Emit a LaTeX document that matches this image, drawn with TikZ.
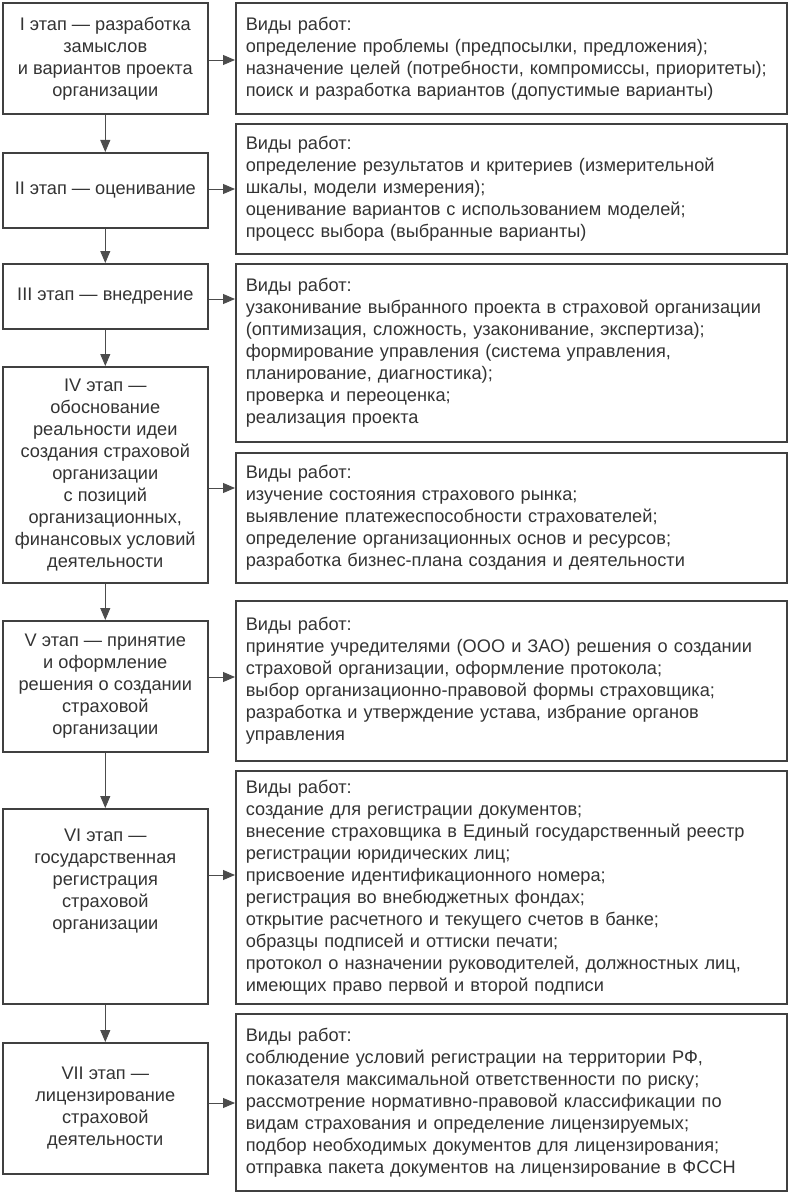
\documentclass[tikz,border=0pt]{standalone}
\usepackage{fontspec}
\setmainfont{Liberation Sans}
\usetikzlibrary{arrows.meta}

\begin{document}
\begin{tikzpicture}[x=1pt, y=1pt,
		every node/.style={font=\fontsize{18.2}{22}\selectfont, text=black!80},
		stage/.style={draw=black!75, line width=1.6pt, anchor=north west, minimum width=205pt, align=center, inner sep=0pt},
		works/.style={draw=black!75, line width=1.6pt, anchor=north west, text width=531pt, inner xsep=10pt, inner ysep=0pt, align=left},
		arr/.style={draw=black!70, line width=0.9pt, -{Triangle[length=12pt, width=10pt]}}]
		\useasboundingbox (0,0) rectangle (789,-1193);
		% stages
		\node [stage, minimum height=111pt] (l1) at (2,-2) {I этап --- разработка\\ замыслов\\ и вариантов проекта\\ организации};
		\node [stage, minimum height=75pt] (l2) at (2,-152) {II этап --- оценивание};
		\node [stage, minimum height=65pt] (l3) at (2,-263) {III этап --- внедрение};
		\node [stage, minimum height=216pt] (l4) at (2,-366) {IV этап ---\\ обоснование\\ реальности идеи\\ создания страховой\\ организации\\ с позиций\\ организационных,\\ финансовых условий\\ деятельности};
		\node [stage, minimum height=131pt] (l5) at (2,-620) {V этап --- принятие\\ и оформление\\ решения о создании\\ страховой\\ организации};
		\node [stage, minimum height=195pt, text depth=54pt] (l6) at (2,-808) {VI этап ---\\ государственная\\ регистрация\\ страховой\\ организации};
		\node [stage, minimum height=131pt] (l7) at (2,-1042) {VII этап ---\\ лицензирование\\ страховой\\ деятельности};
		% works
		\node [works, minimum height=111pt] (r1) at (235,-2) {Виды работ:\\ определение проблемы (предпосылки, предложения);\\ назначение целей (потребности, компромиссы, приоритеты);\\ поиск и разработка вариантов (допустимые варианты)};
		\node [works, minimum height=130pt] (r2) at (235,-123) {Виды работ:\\ определение результатов и критериев (измерительной\\ шкалы, модели измерения);\\ оценивание вариантов с использованием моделей;\\ процесс выбора (выбранные варианты)};
		\node [works, minimum height=178pt] (r3) at (235,-263) {Виды работ:\\ узаконивание выбранного проекта в страховой организации\\ (оптимизация, сложность, узаконивание, экспертиза);\\ формирование управления (система управления,\\ планирование, диагностика);\\ проверка и переоценка;\\ реализация проекта};
		\node [works, minimum height=130pt] (r4) at (235,-452) {Виды работ:\\ изучение состояния страхового рынка;\\ выявление платежеспособности страхователей;\\ определение организационных основ и ресурсов;\\ разработка бизнес-плана создания и деятельности};
		\node [works, minimum height=160pt] (r5) at (235,-600) {Виды работ:\\ принятие учредителями (ООО и ЗАО) решения о создании\\ страховой организации, оформление протокола;\\ выбор организационно-правовой формы страховщика;\\ разработка и утверждение устава, избрание органов\\ управления};
		\node [works, minimum height=233pt] (r6) at (235,-770) {Виды работ:\\ создание для регистрации документов;\\ внесение страховщика в Единый государственный реестр\\ регистрации юридических лиц;\\ присвоение идентификационного номера;\\ регистрация во внебюджетных фондах;\\ открытие расчетного и текущего счетов в банке;\\ образцы подписей и оттиски печати;\\ протокол о назначении руководителей, должностных лиц,\\ имеющих право первой и второй подписи};
		\node [works, minimum height=177pt] (r7) at (235,-1013) {Виды работ:\\ соблюдение условий регистрации на территории РФ,\\ показателя максимальной ответственности по риску;\\ рассмотрение нормативно-правовой классификации по\\ видам страхования и определение лицензируемых;\\ подбор необходимых документов для лицензирования;\\ отправка пакета документов на лицензирование в ФССН};
		% arrows
		\foreach \a/\b in {1/2, 2/3, 3/4, 4/5, 5/6, 6/7}
			\draw [arr] (l\a) -- (l\b);
		\foreach \a/\y in {1/60, 2/189, 3/299, 4/488, 5/677, 6/875, 7/1103}
			\draw [arr] (l\a.east |- 0,-\y) -- (r\a.west |- 0,-\y);
	\end{tikzpicture}
\end{document}
